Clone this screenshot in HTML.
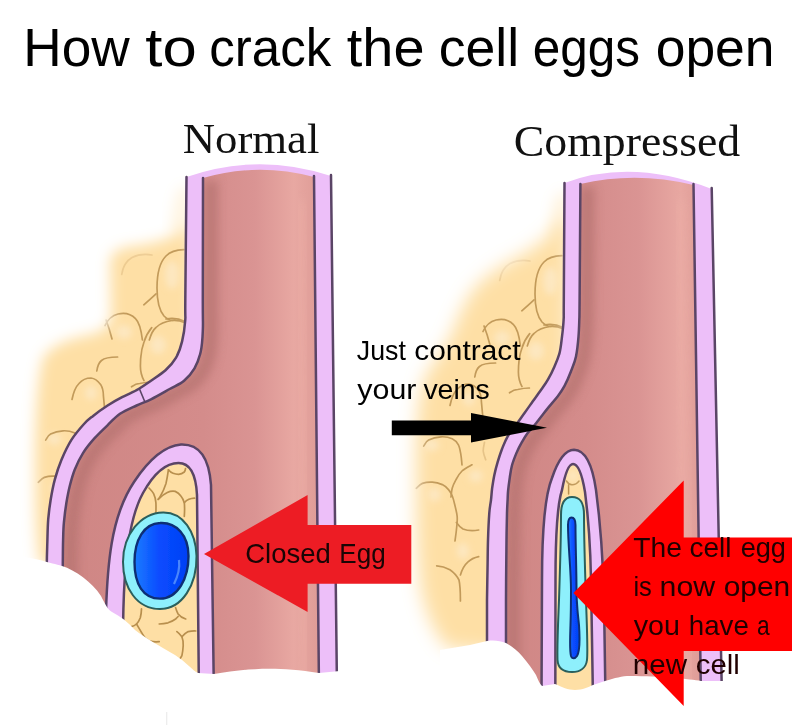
<!DOCTYPE html>
<html><head><meta charset="utf-8">
<style>
html,body{margin:0;padding:0;background:#fff;}
body{width:792px;height:725px;overflow:hidden;}
svg{display:block;}
</style></head>
<body>
<svg width="792" height="725" viewBox="0 0 792 725">
<defs>
  <filter id="fb" x="-40%" y="-40%" width="180%" height="180%"><feGaussianBlur stdDeviation="7"/></filter>
  <filter id="fb9" x="-40%" y="-40%" width="180%" height="180%"><feGaussianBlur stdDeviation="9"/></filter>
  <filter id="fbAll" x="0" y="0" width="100%" height="100%" filterUnits="userSpaceOnUse"><feGaussianBlur stdDeviation="0.55"/></filter>
  <filter id="fb3" x="-40%" y="-40%" width="180%" height="180%"><feGaussianBlur stdDeviation="3"/></filter>
  <filter id="fb5" x="-40%" y="-40%" width="180%" height="180%"><feGaussianBlur stdDeviation="5"/></filter>
  <filter id="fb1" x="-40%" y="-40%" width="180%" height="180%"><feGaussianBlur stdDeviation="0.6"/></filter>
  <linearGradient id="lumL" x1="60" y1="0" x2="320" y2="0" gradientUnits="userSpaceOnUse">
    <stop offset="0" stop-color="#cf8684"/>
    <stop offset="0.55" stop-color="#d48c8b"/>
    <stop offset="0.75" stop-color="#da9493"/>
    <stop offset="0.9" stop-color="#e8a8a2"/>
    <stop offset="1" stop-color="#de9b96"/>
  </linearGradient>
  <linearGradient id="lumR" x1="490" y1="0" x2="702" y2="0" gradientUnits="userSpaceOnUse">
    <stop offset="0" stop-color="#cf8684"/>
    <stop offset="0.45" stop-color="#d48c8b"/>
    <stop offset="0.7" stop-color="#da9493"/>
    <stop offset="0.9" stop-color="#e8a8a2"/>
    <stop offset="1" stop-color="#de9b96"/>
  </linearGradient>
  <linearGradient id="blueG" x1="0" y1="0" x2="1" y2="0">
    <stop offset="0" stop-color="#1a7cff"/>
    <stop offset="0.45" stop-color="#0a4cff"/>
    <stop offset="1" stop-color="#0040f4"/>
  </linearGradient>
  <clipPath id="clipLumL"><path d="M203.0,178.0 C203.0,198.3 202.8,274.5 202.8,300.0 C202.8,325.5 203.2,322.4 202.8,331.0 C202.5,339.6 202.1,345.5 200.7,351.7 C199.3,357.9 197.3,363.5 194.5,368.3 C191.7,373.1 188.2,377.2 184.1,380.7 C180.0,384.1 175.2,385.9 169.7,389.0 C164.2,392.1 156.5,396.6 151.0,399.3 C145.5,402.1 141.8,403.1 136.6,405.5 C131.4,407.9 124.8,410.5 120.0,413.8 C115.2,417.1 111.7,421.2 107.5,425.3 C103.3,429.4 98.7,433.6 94.6,438.2 C90.5,442.8 86.3,447.9 83.0,453.1 C79.7,458.4 76.9,464.2 74.7,469.7 C72.5,475.2 71.1,480.7 69.7,486.2 C68.3,491.7 67.4,496.7 66.4,502.8 C65.4,508.9 64.5,516.4 63.9,522.6 C63.3,528.8 63.3,533.1 63.1,540.0 C62.9,546.9 62.9,554.0 62.8,564.0 C62.7,574.0 62.5,594.0 62.5,600.0 L62.5,700 L319,700 L314,177 Q258,162 203,178 Z"/></clipPath>
  <clipPath id="clipLumR"><path d="M580.4,184.0 C580.3,203.3 579.8,277.3 579.6,300.0 C579.4,322.7 579.5,313.9 579.3,320.0 C579.1,326.1 579.0,330.5 578.5,336.6 C578.0,342.7 577.2,350.6 576.0,356.4 C574.8,362.2 572.9,366.3 571.0,371.3 C569.1,376.3 566.6,382.1 564.4,386.2 C562.2,390.3 560.3,392.9 557.8,396.2 C555.3,399.5 552.0,403.1 549.5,406.1 C547.0,409.1 545.3,411.3 542.9,414.4 C540.5,417.5 537.6,421.4 535.0,424.5 C532.4,427.6 529.7,430.3 527.5,433.2 C525.3,436.1 523.8,438.8 521.9,442.1 C520.0,445.4 518.0,449.2 516.4,453.1 C514.8,457.0 513.1,461.2 512.0,465.3 C510.9,469.4 510.4,473.2 509.8,477.4 C509.2,481.6 508.5,486.8 508.1,490.6 C507.7,494.4 507.8,496.3 507.6,500.0 C507.4,503.7 507.2,506.3 507.0,513.0 C506.8,519.7 506.6,530.5 506.5,540.0 C506.4,549.5 506.3,560.0 506.2,570.0 C506.1,580.0 506.0,595.0 506.0,600.0 L506,700 L701,700 L693.5,185 Q636,171 580.4,184 Z"/></clipPath>

  <g id="fatTex">
    <rect x="-10" y="150" width="230" height="560" fill="#fedfa5"/>
    <g fill="#fde7c0" filter="url(#fb3)">
      <ellipse cx="172" cy="275" rx="7" ry="14"/>
      <ellipse cx="124" cy="332" rx="8" ry="7"/>
      <ellipse cx="158" cy="345" rx="8" ry="9"/>
      <ellipse cx="91" cy="393" rx="6" ry="7"/>
      <ellipse cx="54.3" cy="439" rx="7" ry="6"/>
      <ellipse cx="97.8" cy="470" rx="7" ry="6"/>
      <ellipse cx="56.8" cy="488.5" rx="6" ry="7"/>
      <ellipse cx="85" cy="545" rx="6" ry="8"/>
    </g>
    <g fill="none" stroke="#b88f4e" stroke-width="1.7" stroke-linecap="round" filter="url(#fb1)" opacity="0.85">
      <path d="M121.7,274.5 C123,266 126,261 132,257.5 C138,254.5 146,254 152,255" stroke-opacity="0.3"/>
      <path d="M183.8,249.7 C176,250 170,252 166,256 C160,262 157,272 157,288 C157,300 159,310 164,316 C168,320 172,321 175,320"/>
      <path d="M166,319 C171,318 178,318 185,321.5"/>
      <path d="M143.8,304.8 C147,302 151,298.5 156,293.8"/>
      <path d="M105,325.5 C108,319 112,315.5 118,314 C124,312.5 131,314 135.5,318.6 C139,322 141,328 142.4,340"/>
      <path d="M149.3,340 C151,334 153,330 156,327.5 C160,323.5 165,321.5 172,320.5 C177,320 181,321 185,322.8"/>
      <path d="M151.7,327.6 C148,332 145.5,337 144,342 C141,350 140.4,358 140.4,366 C140.4,372 142,377 144,380.6"/>
      <path d="M96.8,371 C97.5,366 99,362.5 101.5,360.5 C104.5,358 108,357 117.6,357"/>
      <path d="M106,320 C108,325 110,331 112,339"/>
      <path d="M72,399.5 C73.5,392 75.5,387 79,383.5 C82,380 86,378 91,378 C95,378.5 98,381 100.6,384.4 C102.5,387.5 103.4,391 103.4,395.8 C104,402 104.5,408 105,413"/>
      <path d="M131.5,386.8 C134,385 137,383.5 139.8,383.5 C144,382.5 148,382 151.4,382"/>
      <path d="M45.7,440.0 C46.5,439.0 47.7,435.5 50.6,434.0 C53.5,432.5 59.1,431.0 63.0,430.8 C66.9,430.6 71.3,431.4 74.2,432.7 C77.1,434.0 78.9,436.2 80.4,438.9 C81.8,441.6 82.3,445.5 82.9,448.8 C83.5,452.1 83.8,457.1 84.0,458.8"/>
      <path d="M94.0,458.8 C92.3,459.8 86.7,462.5 84.0,465.0 C81.3,467.5 79.6,470.8 78.0,473.7 C76.4,476.6 75.0,479.4 74.2,482.3 C73.4,485.2 73.2,489.6 73.0,491.0"/>
      <path d="M106.5,436.4 C106.3,437.8 105.0,442.1 105.2,445.0 C105.4,447.9 107.3,452.3 107.7,453.8" stroke-opacity="0.4"/>
      <path d="M38.2,482.3 C39.2,481.5 41.7,478.4 44.4,477.4 C47.1,476.4 51.0,475.9 54.3,476.1 C57.6,476.3 61.6,477.4 64.3,478.6 C67.0,479.9 68.9,481.7 70.5,483.6 C72.1,485.5 73.2,487.3 74.2,489.8 C75.2,492.3 75.9,495.0 76.7,498.5 C77.5,502.0 78.9,506.6 79.2,510.9 C79.5,515.1 78.8,520.0 78.4,524.0 C78.0,528.0 77.2,533.2 77.0,535.0"/>
      <path d="M58.7,559.8 C63,560 68,561.5 71.9,563.7 C76,566.5 79,570 81,574 C82.5,581 82.4,588 82.4,595"/>
      <path d="M82.4,569 C84,563.5 86.5,559 90,555.9 C93,553 96.5,551.5 100.7,550.6"/>
      <path d="M78.4,516.5 C80.5,519.5 82.5,521.5 85,523 C90,525 95,525 100.7,524"/>
    </g>
  </g>
  <mask id="mFatL" maskUnits="userSpaceOnUse" x="0" y="100" width="400" height="625">
    <path filter="url(#fb)" fill="#fff" d="M190,226 L180,232 C170,238 155,244 134,246 C118,248 111,252 110,262 L111,316 C109,328 101,333 84,336 C66,340 51,346 43,358 C37,380 35,420 35,470 C35,510 36,540 40,565 L200,575 Z"/>
    <path filter="url(#fb)" fill="#fff" opacity="0.35" d="M190,185 L178,190 L170,230 L190,240 Z"/>
  </mask>
  <mask id="mFatR" maskUnits="userSpaceOnUse" x="380" y="100" width="300" height="625">
    <path filter="url(#fb9)" fill="#fff" d="M568,215 L556,228 C545,240 534,248 520,256 C500,266 484,277 474,289 C464,302 458,318 452,333 C445,350 432,362 424,380 C418,397 416,430 416,470 C416,520 417,560 421,590 C426,615 434,632 447,648 L570,660 Z"/>
    <path filter="url(#fb)" fill="#fff" opacity="0.4" d="M568,190 L556,196 L548,236 L568,246 Z"/>
  </mask>
</defs>

<g filter="url(#fbAll)">
<!-- ============ FAT ============ -->
<g mask="url(#mFatL)"><use href="#fatTex"/></g>
<g mask="url(#mFatR)"><use href="#fatTex" transform="translate(378,6)"/></g>

<!-- ============ LEFT VEIN ============ -->
<g id="leftvein">
  <path d="M186.5,177.0 C186.3,197.5 185.5,276.1 185.3,300.0 C185.1,323.9 185.7,313.8 185.2,320.7 C184.7,327.6 183.6,335.2 182.1,341.4 C180.6,347.6 178.7,353.1 175.9,357.9 C173.1,362.7 169.7,366.5 165.5,370.3 C161.3,374.1 155.5,377.6 151.0,380.7 C146.5,383.8 143.4,386.2 138.6,389.0 C133.8,391.8 127.3,394.4 122.1,397.2 C116.9,399.9 112.4,402.4 107.6,405.5 C102.8,408.6 97.0,412.8 93.1,415.9 C89.2,419.0 87.6,420.0 84.0,424.0 C80.4,428.0 75.2,433.9 71.4,439.9 C67.7,445.8 64.3,453.1 61.5,459.7 C58.7,466.3 56.6,473.0 54.8,479.6 C53.0,486.2 51.8,492.9 50.7,499.5 C49.6,506.1 48.8,512.5 48.2,519.3 C47.7,526.0 47.6,532.5 47.4,540.0 C47.2,547.5 46.9,554.0 46.8,564.0 C46.6,574.0 46.5,594.0 46.5,600.0 L46.5,700 L337,700 L331,176 Q258,152 186.5,177 Z" fill="#edbff9"/>
  <path d="M203.0,178.0 C203.0,198.3 202.8,274.5 202.8,300.0 C202.8,325.5 203.2,322.4 202.8,331.0 C202.5,339.6 202.1,345.5 200.7,351.7 C199.3,357.9 197.3,363.5 194.5,368.3 C191.7,373.1 188.2,377.2 184.1,380.7 C180.0,384.1 175.2,385.9 169.7,389.0 C164.2,392.1 156.5,396.6 151.0,399.3 C145.5,402.1 141.8,403.1 136.6,405.5 C131.4,407.9 124.8,410.5 120.0,413.8 C115.2,417.1 111.7,421.2 107.5,425.3 C103.3,429.4 98.7,433.6 94.6,438.2 C90.5,442.8 86.3,447.9 83.0,453.1 C79.7,458.4 76.9,464.2 74.7,469.7 C72.5,475.2 71.1,480.7 69.7,486.2 C68.3,491.7 67.4,496.7 66.4,502.8 C65.4,508.9 64.5,516.4 63.9,522.6 C63.3,528.8 63.3,533.1 63.1,540.0 C62.9,546.9 62.9,554.0 62.8,564.0 C62.7,574.0 62.5,594.0 62.5,600.0 L62.5,700 L319,700 L314,177 Q258,162 203,178 Z" fill="url(#lumL)"/>
  <g clip-path="url(#clipLumL)">
    <path d="M211.0,181.0 C211.0,201.3 210.8,277.5 210.8,303.0 C210.8,328.5 211.2,325.4 210.8,334.0 C210.5,342.6 210.1,348.5 208.7,354.7 C207.3,360.9 205.3,366.5 202.5,371.3 C199.7,376.1 196.2,380.2 192.1,383.7 C188.0,387.1 183.2,388.9 177.7,392.0 C172.2,395.1 164.5,399.6 159.0,402.3 C153.5,405.1 149.8,406.1 144.6,408.5 C139.4,410.9 132.8,413.5 128.0,416.8 C123.2,420.1 119.7,424.2 115.5,428.3 C111.3,432.4 106.7,436.6 102.6,441.2 C98.5,445.8 94.3,450.9 91.0,456.1 C87.7,461.4 84.9,467.2 82.7,472.7 C80.5,478.2 79.1,483.7 77.7,489.2 C76.3,494.7 75.4,499.7 74.4,505.8 C73.4,511.9 72.5,519.4 71.9,525.6 C71.4,531.8 71.3,536.1 71.1,543.0 C70.9,549.9 70.9,557.0 70.8,567.0 C70.7,577.0 70.5,597.0 70.5,603.0 L70.5,700" fill="none" stroke="#b5726f" stroke-width="14" filter="url(#fb5)" opacity="0.75"/>
    <path d="M300,200 L305,690" fill="none" stroke="#ecaea6" stroke-width="10" filter="url(#fb5)" opacity="0.6"/>
  </g>
  <path d="M105.5,640 C106,560 112,515 134,482 C148,461 163,446 181,444.6 C200,444 209,458 211,485 L214,700 L105,700 Z" fill="#edbff9"/>
  <path d="M123,640 C123,570 128,520 143,493 C153,475 165,463 178.5,463 C190,463 196,475 197,495 L199,700 L123,700 Z" fill="#fedfa5"/>
  <g fill="none" stroke="#b88f4e" stroke-width="1.7" stroke-linecap="round" stroke-linejoin="round">
    <path d="M168.4,469.8 C170,471.8 171.5,472.8 173,473.2 C175,474 177,474.3 178.6,474.3 C181,474 183,473 184.3,472 C185,471 185.4,469.8 185.5,468.6"/>
    <path d="M168.4,469.8 C167.8,474 167,479 166,483.4 C164.5,488 162.5,492.5 160.5,496 C159.8,497.3 159,498.4 158.2,499.3"/>
    <path d="M158.2,499.3 C161,496.5 164,494 167.3,492.5 C170,491.3 172.8,491 175.2,491.4 C177.5,492.3 179.5,494 180.9,496 C182.5,498 183.6,500.4 184.3,502.7 C184.8,507 184.6,512 184.3,516.4"/>
    <path d="M184.3,502.7 C185.8,501 187.3,500 188.9,499.3 C190.7,498.6 192.6,498.3 194.5,498.2"/>
    <path d="M149,488 C150.7,489.8 152.4,491.5 153.6,493.6 C155,496.5 155.7,499.6 155.9,502.7 C156.1,506 156,509.5 155.9,513"/>
    <path d="M141.5,608.9 C141.4,612 141,615 140.3,617.7 C139.4,620 138.1,622.4 136.5,624 C135,625.4 133.2,626.2 131.4,626.6"/>
    <path d="M136.5,624 C137.8,626.2 139,628.3 140.3,630.4 C141.8,633 143.4,635.8 145.3,638 C147.5,640.2 150,641.4 152.9,641.7 C155,641.9 157.2,641.9 159.2,641.7"/>
    <path d="M159.2,624 C162.2,623.8 165.1,623.4 168,622.8 C170.8,621.9 173.3,620.7 175.6,619 C176.5,618.2 177.3,617.4 178.1,616.5"/>
    <path d="M175.6,607.6 C176.2,609.8 177,612 178.1,614 C180,616.5 182.6,618 185.7,619"/>
    <path d="M176.9,631.6 C178.8,633 180.5,634.8 181.9,636.7 C183,639.5 183.4,642.5 183.2,645.5 C183,649 182.7,652.4 181.9,655.6 C181,657.6 179.7,659.3 178.1,660.7"/>
    <path d="M181.9,636.7 C183.8,634.6 185.9,632.8 188.2,631.6 C190.6,631.1 193.2,630.9 195.8,631"/>
  </g>
  <g fill="none" stroke="#5a4466" stroke-width="2.5" stroke-linecap="round">
    <path d="M186.5,177.0 C186.3,197.5 185.5,276.1 185.3,300.0 C185.1,323.9 185.7,313.8 185.2,320.7 C184.7,327.6 183.6,335.2 182.1,341.4 C180.6,347.6 178.7,353.1 175.9,357.9 C173.1,362.7 169.7,366.5 165.5,370.3 C161.3,374.1 155.5,377.6 151.0,380.7 C146.5,383.8 143.4,386.2 138.6,389.0 C133.8,391.8 127.3,394.4 122.1,397.2 C116.9,399.9 112.4,402.4 107.6,405.5 C102.8,408.6 97.0,412.8 93.1,415.9 C89.2,419.0 87.6,420.0 84.0,424.0 C80.4,428.0 75.2,433.9 71.4,439.9 C67.7,445.8 64.3,453.1 61.5,459.7 C58.7,466.3 56.6,473.0 54.8,479.6 C53.0,486.2 51.8,492.9 50.7,499.5 C49.6,506.1 48.8,512.5 48.2,519.3 C47.7,526.0 47.6,532.5 47.4,540.0 C47.2,547.5 46.9,554.0 46.8,564.0 C46.6,574.0 46.5,594.0 46.5,600.0 L46.5,700"/>
    <path d="M203.0,178.0 C203.0,198.3 202.8,274.5 202.8,300.0 C202.8,325.5 203.2,322.4 202.8,331.0 C202.5,339.6 202.1,345.5 200.7,351.7 C199.3,357.9 197.3,363.5 194.5,368.3 C191.7,373.1 188.2,377.2 184.1,380.7 C180.0,384.1 175.2,385.9 169.7,389.0 C164.2,392.1 156.5,396.6 151.0,399.3 C145.5,402.1 141.8,403.1 136.6,405.5 C131.4,407.9 124.8,410.5 120.0,413.8 C115.2,417.1 111.7,421.2 107.5,425.3 C103.3,429.4 98.7,433.6 94.6,438.2 C90.5,442.8 86.3,447.9 83.0,453.1 C79.7,458.4 76.9,464.2 74.7,469.7 C72.5,475.2 71.1,480.7 69.7,486.2 C68.3,491.7 67.4,496.7 66.4,502.8 C65.4,508.9 64.5,516.4 63.9,522.6 C63.3,528.8 63.3,533.1 63.1,540.0 C62.9,546.9 62.9,554.0 62.8,564.0 C62.7,574.0 62.5,594.0 62.5,600.0 L62.5,700"/>
    <path d="M314,176 L319,690"/>
    <path d="M331,175 L337,690"/>
    <path d="M105.5,640 C106,560 112,515 134,482 C148,461 163,446 181,444.6 C200,444 209,458 211,485 L214,700"/>
    <path d="M123,640 C123,570 128,520 143,493 C153,475 165,463 178.5,463 C190,463 196,475 197,495 L199,700"/>
    <path d="M139.5,389 L144.5,401" stroke-width="1.6"/>
  </g>
  <path d="M163,512.4 C183,512 196,532 196.5,556 C197,585 182,609 160,609 C137,609 123,588 123,562 C123,534 141,513 163,512.4 Z" fill="#8ef0fc" stroke="#2a5f5c" stroke-width="2"/>
  <path d="M160,523 C176,522 188.5,535 188.5,556 C188.5,578 178,598.6 160,598.6 C143,598.6 134.5,584 134.5,562 C134.5,540 144,523.5 160,523 Z" fill="url(#blueG)" stroke="#0c2f75" stroke-width="2.4"/>
  <path d="M179,560 C180,568 178,576 174,584" fill="none" stroke="#7ab4ff" stroke-width="2.2" opacity="0.6"/>
</g>

<!-- ============ RIGHT VEIN ============ -->
<g id="rightvein">
  <path d="M564.5,183.0 C564.4,202.5 563.9,277.2 563.8,300.0 C563.6,322.8 563.9,313.9 563.6,320.0 C563.3,326.1 562.7,331.1 562.0,336.6 C561.3,342.1 560.8,348.1 559.5,353.1 C558.2,358.1 556.4,362.0 554.5,366.4 C552.6,370.8 550.1,375.8 547.9,379.6 C545.7,383.5 543.8,385.9 541.3,389.5 C538.8,393.1 535.8,397.2 533.0,401.1 C530.2,405.0 527.4,409.0 524.7,412.7 C522.0,416.4 519.9,419.5 517.0,423.5 C514.1,427.5 510.1,432.4 507.6,436.6 C505.1,440.8 503.8,444.5 502.1,448.7 C500.5,452.9 499.0,457.5 497.7,461.9 C496.4,466.3 495.2,470.8 494.3,475.2 C493.4,479.6 492.7,484.3 492.1,488.4 C491.6,492.5 491.5,495.9 491.0,500.0 C490.5,504.1 489.8,506.3 489.3,513.0 C488.8,519.7 488.3,530.5 488.0,540.0 C487.7,549.5 487.7,560.0 487.5,570.0 C487.3,580.0 487.1,595.0 487.0,600.0 L487,700 L722,700 L711.7,189 Q632,158 564.5,183 Z" fill="#edbff9"/>
  <path d="M580.4,184.0 C580.3,203.3 579.8,277.3 579.6,300.0 C579.4,322.7 579.5,313.9 579.3,320.0 C579.1,326.1 579.0,330.5 578.5,336.6 C578.0,342.7 577.2,350.6 576.0,356.4 C574.8,362.2 572.9,366.3 571.0,371.3 C569.1,376.3 566.6,382.1 564.4,386.2 C562.2,390.3 560.3,392.9 557.8,396.2 C555.3,399.5 552.0,403.1 549.5,406.1 C547.0,409.1 545.3,411.3 542.9,414.4 C540.5,417.5 537.6,421.4 535.0,424.5 C532.4,427.6 529.7,430.3 527.5,433.2 C525.3,436.1 523.8,438.8 521.9,442.1 C520.0,445.4 518.0,449.2 516.4,453.1 C514.8,457.0 513.1,461.2 512.0,465.3 C510.9,469.4 510.4,473.2 509.8,477.4 C509.2,481.6 508.5,486.8 508.1,490.6 C507.7,494.4 507.8,496.3 507.6,500.0 C507.4,503.7 507.2,506.3 507.0,513.0 C506.8,519.7 506.6,530.5 506.5,540.0 C506.4,549.5 506.3,560.0 506.2,570.0 C506.1,580.0 506.0,595.0 506.0,600.0 L506,700 L701,700 L693.5,185 Q636,171 580.4,184 Z" fill="url(#lumR)"/>
  <g clip-path="url(#clipLumR)">
    <path d="M587.4,187.0 C587.3,206.3 586.8,280.3 586.6,303.0 C586.4,325.7 586.5,316.9 586.3,323.0 C586.1,329.1 586.0,333.5 585.5,339.6 C585.0,345.7 584.2,353.6 583.0,359.4 C581.8,365.2 579.9,369.3 578.0,374.3 C576.1,379.3 573.6,385.1 571.4,389.2 C569.2,393.3 567.3,395.9 564.8,399.2 C562.3,402.5 559.0,406.1 556.5,409.1 C554.0,412.1 552.3,414.3 549.9,417.4 C547.5,420.5 544.6,424.4 542.0,427.5 C539.4,430.6 536.7,433.3 534.5,436.2 C532.3,439.1 530.8,441.8 528.9,445.1 C527.0,448.4 525.0,452.2 523.4,456.1 C521.8,460.0 520.1,464.2 519.0,468.3 C517.9,472.4 517.4,476.2 516.8,480.4 C516.1,484.6 515.5,489.8 515.1,493.6 C514.7,497.4 514.8,499.3 514.6,503.0 C514.4,506.7 514.2,509.3 514.0,516.0 C513.8,522.7 513.6,533.5 513.5,543.0 C513.4,552.5 513.3,563.0 513.2,573.0 C513.1,583.0 513.0,598.0 513.0,603.0 L513,700" fill="none" stroke="#b5726f" stroke-width="14" filter="url(#fb5)" opacity="0.75"/>
    <path d="M680,200 L688,690" fill="none" stroke="#ecaea6" stroke-width="10" filter="url(#fb5)" opacity="0.6"/>
  </g>
  <path d="M541.5,700 L542,580 C542,530 545,495 552,478 C558,460 565,450 574,449.7 C584,450 592,462 596,490 C600,520 603,560 604,600 L605.5,700 Z" fill="#edbff9"/>
  <path d="M555.3,700 L555.5,580 C555.5,535 557,505 562,490 C565,474 569,464 573,464 C578,464 582,474 585,492 C588,515 590.5,550 591,580 L593,700 Z" fill="#fedfa5"/>
  <g fill="none" stroke="#b88f4e" stroke-width="1.5" stroke-linecap="round">
    <path d="M566.5,481 C568,483.5 570,484.7 572,484.8 C575,484.8 577.5,483 579,481"/>
    <path d="M568.6,484.7 L568.6,494"/>
  </g>
  <ellipse cx="573" cy="476" rx="5" ry="6" fill="#fde7c0" filter="url(#fb3)"/>
  <g fill="none" stroke="#5a4466" stroke-width="2.5" stroke-linecap="round">
    <path d="M564.5,183.0 C564.4,202.5 563.9,277.2 563.8,300.0 C563.6,322.8 563.9,313.9 563.6,320.0 C563.3,326.1 562.7,331.1 562.0,336.6 C561.3,342.1 560.8,348.1 559.5,353.1 C558.2,358.1 556.4,362.0 554.5,366.4 C552.6,370.8 550.1,375.8 547.9,379.6 C545.7,383.5 543.8,385.9 541.3,389.5 C538.8,393.1 535.8,397.2 533.0,401.1 C530.2,405.0 527.4,409.0 524.7,412.7 C522.0,416.4 519.9,419.5 517.0,423.5 C514.1,427.5 510.1,432.4 507.6,436.6 C505.1,440.8 503.8,444.5 502.1,448.7 C500.5,452.9 499.0,457.5 497.7,461.9 C496.4,466.3 495.2,470.8 494.3,475.2 C493.4,479.6 492.7,484.3 492.1,488.4 C491.6,492.5 491.5,495.9 491.0,500.0 C490.5,504.1 489.8,506.3 489.3,513.0 C488.8,519.7 488.3,530.5 488.0,540.0 C487.7,549.5 487.7,560.0 487.5,570.0 C487.3,580.0 487.1,595.0 487.0,600.0 L487,700"/>
    <path d="M580.4,184.0 C580.3,203.3 579.8,277.3 579.6,300.0 C579.4,322.7 579.5,313.9 579.3,320.0 C579.1,326.1 579.0,330.5 578.5,336.6 C578.0,342.7 577.2,350.6 576.0,356.4 C574.8,362.2 572.9,366.3 571.0,371.3 C569.1,376.3 566.6,382.1 564.4,386.2 C562.2,390.3 560.3,392.9 557.8,396.2 C555.3,399.5 552.0,403.1 549.5,406.1 C547.0,409.1 545.3,411.3 542.9,414.4 C540.5,417.5 537.6,421.4 535.0,424.5 C532.4,427.6 529.7,430.3 527.5,433.2 C525.3,436.1 523.8,438.8 521.9,442.1 C520.0,445.4 518.0,449.2 516.4,453.1 C514.8,457.0 513.1,461.2 512.0,465.3 C510.9,469.4 510.4,473.2 509.8,477.4 C509.2,481.6 508.5,486.8 508.1,490.6 C507.7,494.4 507.8,496.3 507.6,500.0 C507.4,503.7 507.2,506.3 507.0,513.0 C506.8,519.7 506.6,530.5 506.5,540.0 C506.4,549.5 506.3,560.0 506.2,570.0 C506.1,580.0 506.0,595.0 506.0,600.0 L506,700"/>
    <path d="M693.5,184 L701,700"/>
    <path d="M711.7,188 L722,700"/>
    <path d="M541.5,700 L542,580 C542,530 545,495 552,478 C558,460 565,450 574,449.7 C584,450 592,462 596,490 C600,520 603,560 604,600 L605.5,700"/>
    <path d="M555.3,700 L555.5,580 C555.5,535 557,505 562,490 C565,474 569,464 573,464 C578,464 582,474 585,492 C588,515 590.5,550 591,580 L593,700"/>
  </g>
  <path d="M572,497 C580,497 584,502 584,515 C584,540 585,570 586,600 C587,630 588,650 587,660 C586,668 580,672 572,672 C563,672 558,668 557.5,660 C557,645 558,625 559,600 C560,570 561,540 561,515 C561,503 565,497 572,497 Z" fill="#8ef0fc" stroke="#2a5f5c" stroke-width="2"/>
  <path d="M571.5,517.5 C574.5,517.5 575.5,520 575.5,525 C575.5,545 576.5,570 576.5,590 C576.5,605 578,615 579,625 C580,640 579.5,652 577,656 C575,659 572,659 571,656 C569.5,650 570,640 570.5,625 C571,610 571,600 571,590 C571,570 568,545 568,525 C568,520 569,517.5 571.5,517.5 Z" fill="url(#blueG)" stroke="#0c2f75" stroke-width="2"/>
</g>

<!-- ============ CLOUDS (white cut) ============ -->
<path filter="url(#fb1)" d="M0,552 L40,560 C50,563 56,564 62,566 C75,570 92,582 101,596 C105,604 108,610 112,612 C120,616 128,622 135,630 C145,638 160,646 175,655 C186,662 192,670 198,673 L214,674 C240,670 270,665 319,673 L340,671 L460,671 L460,725 L0,725 Z" fill="#fff"/>
<path filter="url(#fb1)" d="M440,650 L470,645 L487,641 C495,640 500,641 506,643 C513,647 518,651 522,656 C528,663 533,670 536,675 C538,680 540,684 542,686 L555,684 C562,687 568,690 575,690 C583,690 588,687 593,685 L605,681 C615,678 622,676 630,676 C660,676 690,679 701,681 L722,681 L792,681 L792,725 L440,725 Z" fill="#fff"/>

</g>
<path d="M166.7,712 L166.7,725" stroke="#ececec" stroke-width="1.2"/>
<!-- ============ TEXT ============ -->
<g font-family="Liberation Sans" font-size="53" fill="#000" lengthAdjust="spacingAndGlyphs">
<text x="23.24" y="66" textLength="106.43" lengthAdjust="spacingAndGlyphs">How</text>
<text x="145.37" y="66" textLength="51.42" lengthAdjust="spacingAndGlyphs">to</text>
<text x="209.23" y="66" textLength="121.99" lengthAdjust="spacingAndGlyphs">crack</text>
<text x="346.75" y="66" textLength="77.73" lengthAdjust="spacingAndGlyphs">the</text>
<text x="438.72" y="66" textLength="80.36" lengthAdjust="spacingAndGlyphs">cell</text>
<text x="532.7" y="66" textLength="107.29" lengthAdjust="spacingAndGlyphs">eggs</text>
<text x="655.66" y="66" textLength="118.92" lengthAdjust="spacingAndGlyphs">open</text>
</g>
<text x="182.71" y="152.9" font-family="Liberation Serif" font-size="42.4" fill="#111" textLength="136.68" lengthAdjust="spacingAndGlyphs">Normal</text>
<text x="513.72" y="155.8" font-family="Liberation Serif" font-size="43.6" fill="#111" textLength="226.54" lengthAdjust="spacingAndGlyphs">Compressed</text>
<g font-family="Liberation Sans" font-size="28" fill="#000">
<text x="356.78" y="359.6" textLength="49.11" lengthAdjust="spacingAndGlyphs">Just</text>
<text x="414.33" y="359.6" textLength="106.19" lengthAdjust="spacingAndGlyphs">contract</text>
<text x="357.33" y="398.8" textLength="59.08" lengthAdjust="spacingAndGlyphs">your</text>
<text x="423.4" y="398.8" textLength="66.43" lengthAdjust="spacingAndGlyphs">veins</text>
</g>

<path d="M391.8,420.5 L471,420.5 L471,413 L547,427.7 L471,442.5 L471,435.2 L391.8,435.2 Z" fill="#000"/>

<path d="M204,554 L307.6,495.1 L307.6,525 L411.3,525 L411.3,583.7 L307.6,583.7 L307.6,612 Z" fill="#ed1c24"/>
<g font-family="Liberation Sans" font-size="28" fill="#1a0505">
<text x="245.2" y="563.4" textLength="85.57" lengthAdjust="spacingAndGlyphs">Closed</text>
<text x="339.36" y="563.4" textLength="46.42" lengthAdjust="spacingAndGlyphs">Egg</text>
</g>

<path d="M573.4,593 L683.7,480.5 L683.7,537.4 L792,537.4 L792,650.9 L683.7,650.9 L683.7,706 Z" fill="#ff0000"/>
<g font-family="Liberation Sans" font-size="28" fill="#200000">
<text x="633.17" y="556.5" textLength="48.69" lengthAdjust="spacingAndGlyphs">The</text>
<text x="689.51" y="556.5" textLength="41.96" lengthAdjust="spacingAndGlyphs">cell</text>
<text x="740.65" y="556.5" textLength="45.3" lengthAdjust="spacingAndGlyphs">egg</text>
<text x="633.39" y="595.6" textLength="18.43" lengthAdjust="spacingAndGlyphs">is</text>
<text x="659.59" y="595.6" textLength="55.64" lengthAdjust="spacingAndGlyphs">now</text>
<text x="723.74" y="595.6" textLength="66.5" lengthAdjust="spacingAndGlyphs">open</text>
<text x="633.73" y="634.5" textLength="46.17" lengthAdjust="spacingAndGlyphs">you</text>
<text x="688.78" y="634.5" textLength="60.05" lengthAdjust="spacingAndGlyphs">have</text>
<text x="757.03" y="634.5" textLength="12.67" lengthAdjust="spacingAndGlyphs">a</text>
<text x="632.84" y="673.8" textLength="54.19" lengthAdjust="spacingAndGlyphs">new</text>
<text x="695.75" y="673.8" textLength="44.12" lengthAdjust="spacingAndGlyphs">cell</text>
<text x="790" y="595.6">,</text>
</g>
</svg>
</body></html>
